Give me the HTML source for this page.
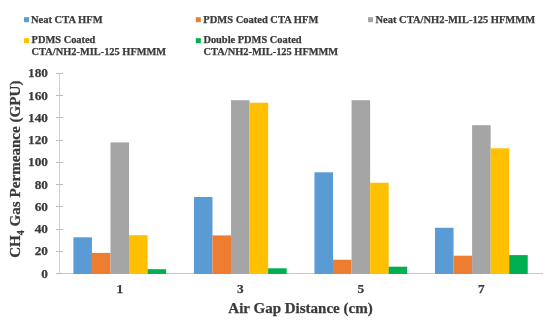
<!DOCTYPE html>
<html><head><meta charset="utf-8"><style>
html,body{margin:0;padding:0;background:#fff;}
body{width:550px;height:323px;overflow:hidden;}
svg{display:block;}
</style></head><body>
<svg width="550" height="323" viewBox="0 0 550 323">
<rect width="550" height="323" fill="#fff"/>
<g stroke="#BFBFBF" stroke-width="1" shape-rendering="crispEdges">
<line x1="59.5" x2="59.5" y1="73" y2="274" stroke="#D2D2D2"/>
<line x1="55.6" x2="542.5" y1="273.5" y2="273.5" stroke="#C8C8C8"/>
<line x1="55.6" x2="63.2" stroke="#BDBDBD" y1="273.50" y2="273.50"/><line x1="55.6" x2="63.2" stroke="#BDBDBD" y1="251.26" y2="251.26"/><line x1="55.6" x2="63.2" stroke="#BDBDBD" y1="229.01" y2="229.01"/><line x1="55.6" x2="63.2" stroke="#BDBDBD" y1="206.77" y2="206.77"/><line x1="55.6" x2="63.2" stroke="#BDBDBD" y1="184.52" y2="184.52"/><line x1="55.6" x2="63.2" stroke="#BDBDBD" y1="162.28" y2="162.28"/><line x1="55.6" x2="63.2" stroke="#BDBDBD" y1="140.03" y2="140.03"/><line x1="55.6" x2="63.2" stroke="#BDBDBD" y1="117.79" y2="117.79"/><line x1="55.6" x2="63.2" stroke="#BDBDBD" y1="95.54" y2="95.54"/><line x1="55.6" x2="63.2" stroke="#BDBDBD" y1="73.30" y2="73.30"/>
</g>
<g><rect x="73.40" y="237.30" width="18.55" height="36.70" fill="#5B9BD5"/><rect x="91.95" y="252.90" width="18.55" height="21.10" fill="#ED7D31"/><rect x="110.50" y="142.40" width="18.55" height="131.60" fill="#A5A5A5"/><rect x="129.05" y="235.20" width="18.55" height="38.80" fill="#FFC000"/><rect x="147.60" y="269.20" width="18.55" height="4.80" fill="#00B050"/><rect x="193.93" y="197.00" width="18.55" height="77.00" fill="#5B9BD5"/><rect x="212.48" y="235.40" width="18.55" height="38.60" fill="#ED7D31"/><rect x="231.03" y="100.20" width="18.55" height="173.80" fill="#A5A5A5"/><rect x="249.58" y="102.70" width="18.55" height="171.30" fill="#FFC000"/><rect x="268.13" y="268.30" width="18.55" height="5.70" fill="#00B050"/><rect x="314.46" y="172.30" width="18.55" height="101.70" fill="#5B9BD5"/><rect x="333.01" y="259.75" width="18.55" height="14.25" fill="#ED7D31"/><rect x="351.56" y="100.20" width="18.55" height="173.80" fill="#A5A5A5"/><rect x="370.11" y="182.75" width="18.55" height="91.25" fill="#FFC000"/><rect x="388.66" y="266.70" width="18.55" height="7.30" fill="#00B050"/><rect x="434.99" y="227.80" width="18.55" height="46.20" fill="#5B9BD5"/><rect x="453.54" y="255.70" width="18.55" height="18.30" fill="#ED7D31"/><rect x="472.09" y="125.20" width="18.55" height="148.80" fill="#A5A5A5"/><rect x="490.64" y="148.30" width="18.55" height="125.70" fill="#FFC000"/><rect x="509.19" y="255.10" width="18.55" height="18.90" fill="#00B050"/></g>
<g font-family="Liberation Serif, serif" font-weight="bold" fill="#3a3a3a" stroke="#3a3a3a" stroke-width="0.25" font-size="13.3">
<text x="48" y="277.60" text-anchor="end">0</text><text x="48" y="255.36" text-anchor="end">20</text><text x="48" y="233.11" text-anchor="end">40</text><text x="48" y="210.87" text-anchor="end">60</text><text x="48" y="188.62" text-anchor="end">80</text><text x="48" y="166.38" text-anchor="end">100</text><text x="48" y="144.13" text-anchor="end">120</text><text x="48" y="121.89" text-anchor="end">140</text><text x="48" y="99.64" text-anchor="end">160</text><text x="48" y="77.40" text-anchor="end">180</text>
<text x="119.77" y="293.3" text-anchor="middle">1</text><text x="240.30" y="293.3" text-anchor="middle">3</text><text x="360.82" y="293.3" text-anchor="middle">5</text><text x="481.36" y="293.3" text-anchor="middle">7</text>
</g>
<text x="300.5" y="313" text-anchor="middle" font-family="Liberation Serif, serif" font-weight="bold" font-size="15" fill="#3a3a3a" stroke="#3a3a3a" stroke-width="0.25">Air Gap Distance (cm)</text>
<text transform="translate(20.3,169.2) rotate(-90)" text-anchor="middle" font-family="Liberation Serif, serif" font-weight="bold" font-size="15.1" fill="#3a3a3a" stroke="#3a3a3a" stroke-width="0.25">CH<tspan font-size="10" dy="3.5">4</tspan><tspan dy="-3.5"> Gas Permeance (GPU)</tspan></text>
<g font-family="Liberation Serif, serif" font-weight="bold" font-size="10.5" fill="#3a3a3a" stroke="#3a3a3a" stroke-width="0.25">
<rect x="24" y="17.2" width="5" height="5" fill="#5B9BD5" stroke="none"/>
<text x="31" y="23">Neat CTA HFM</text>
<rect x="195.8" y="17.2" width="5" height="5" fill="#ED7D31" stroke="none"/>
<text x="203.3" y="23">PDMS Coated CTA HFM</text>
<rect x="368" y="17.2" width="5" height="5" fill="#A5A5A5" stroke="none"/>
<text x="375.5" y="23">Neat CTA/NH2-MIL-125 HFMMM</text>
<rect x="24" y="38.2" width="5" height="5" fill="#FFC000" stroke="none"/>
<text x="31.6" y="43.3" font-size="10.4">PDMS Coated</text>
<text x="31.6" y="54.9" font-size="10.4">CTA/NH2-MIL-125 HFMMM</text>
<rect x="195.8" y="38.2" width="5" height="5" fill="#00B050" stroke="none"/>
<text x="203.4" y="43.2" font-size="10.4">Double PDMS Coated</text>
<text x="203.6" y="54.9" font-size="10.4">CTA/NH2-MIL-125 HFMMM</text>
</g>
</svg>
</body></html>
